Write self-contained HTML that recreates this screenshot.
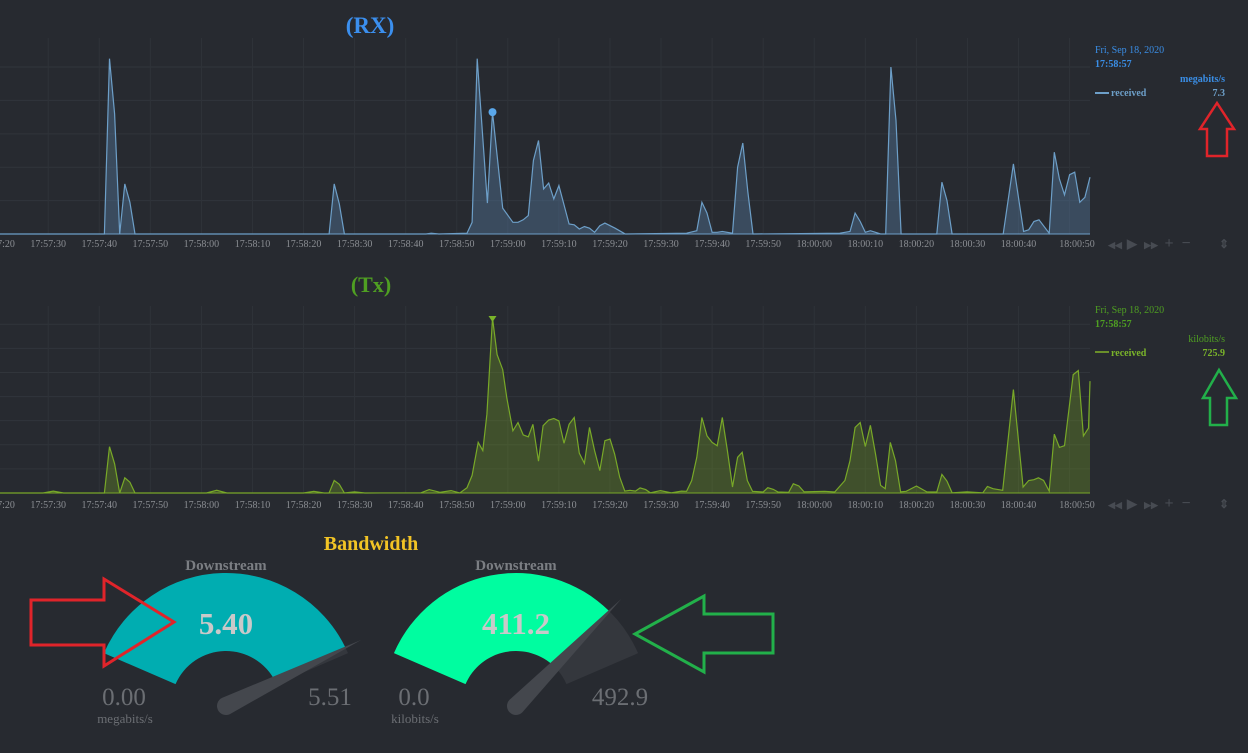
<!DOCTYPE html>
<html><head><meta charset="utf-8">
<style>
html,body{margin:0;padding:0;background:#272a30;width:1248px;height:753px;overflow:hidden}
svg{display:block}
text{font-family:"Liberation Serif",serif}
</style></head>
<body>
<svg id="s" width="1248" height="753" viewBox="0 0 1248 753">
<rect x="0" y="0" width="1248" height="753" fill="#272a30"/>
<text x="370" y="33" text-anchor="middle" font-size="23" font-weight="bold" fill="#3b8fee">(RX)</text>
<text x="371" y="292" text-anchor="middle" font-size="22" font-weight="bold" fill="#4f9f22">(Tx)</text>
<text x="371" y="550" text-anchor="middle" font-size="20" font-weight="bold" fill="#f2c425">Bandwidth</text>
<g id="rx"></g>
<g id="tx"></g>

<g font-size="10">
<text x="1095" y="53" fill="#3a8ee6">Fri, Sep 18, 2020</text>
<text x="1095" y="67" fill="#3a8ee6" font-weight="bold">17:58:57</text>
<text x="1225" y="82" text-anchor="end" fill="#3a8ee6" font-weight="bold">megabits/s</text>
<rect x="1095" y="92" width="14" height="2" fill="#6d9fc8"/>
<text x="1111" y="96" fill="#6d9fc8" font-weight="bold">received</text>
<text x="1225" y="96" text-anchor="end" fill="#6d9fc8" font-weight="bold">7.3</text>
</g>
<g font-size="10">
<text x="1095" y="313" fill="#4f9f22">Fri, Sep 18, 2020</text>
<text x="1095" y="327" fill="#4f9f22" font-weight="bold">17:58:57</text>
<text x="1225" y="342" text-anchor="end" fill="#4f9f22">kilobits/s</text>
<rect x="1095" y="351" width="14" height="2" fill="#6a8f2a"/>
<text x="1111" y="356" fill="#7ab42a" font-weight="bold">received</text>
<text x="1225" y="356" text-anchor="end" fill="#7ab42a" font-weight="bold">725.9</text>
</g>
<g id="ctl" fill="#4a4e55"></g>

<polygon points="1217,103 1234,129 1227,129 1227,156 1207,156 1207,129 1200,129" fill="none" stroke="#e0242a" stroke-width="2.5"/>
<polygon points="1219,370 1236,398 1227,398 1227,425 1210,425 1210,398 1203,398" fill="none" stroke="#22b04a" stroke-width="2.5"/>

<g id="gauges"></g>

<polygon points="31,600 104,600 104,579 174,622 104,666 104,645 31,645" fill="none" stroke="#e0242a" stroke-width="3"/>
<polygon points="635,634 704,596 704,614 773,614 773,653 704,653 704,672" fill="none" stroke="#22b04a" stroke-width="3"/>
</svg>
<script>
// time in seconds from 17:57:30
const tickLabels=["17:57:20","17:57:30","17:57:40","17:57:50","17:58:00","17:58:10","17:58:20","17:58:30","17:58:40","17:58:50","17:59:00","17:59:10","17:59:20","17:59:30","17:59:40","17:59:50","18:00:00","18:00:10","18:00:20","18:00:30","18:00:40","18:00:50"];
const tickTimes=[-10,0,10,20,30,40,50,60,70,80,90,100,110,120,130,140,150,160,170,180,190,200];
const rxTimes=[-10,11,12,13,14,15,16,17,55,56,57,58,74,75,76.5,82,83,84,86,87,89,91,92,93,94,95,96,97,98,99,100,102,103,104,105,106,107,108,109,111,113,125,127,128,129,130,131,132,134,135,136,137,138,155,157,158,159,160,161,162,163,164,165,166,167,174,175,176,177,187,189,191,192,193,194,196,197,198,199,200,201,202,203,204];
const rxValues=[0,0,10.5,7.2,0,3.0,1.9,0,0,3.0,1.8,0,0,0.05,0,0.05,0.7,10.5,1.85,7.3,1.55,0.7,0.7,0.85,1.1,4.4,5.6,2.7,3.05,2.1,2.9,0.6,0.55,0.3,0.45,0.35,0.1,0.5,0.65,0.35,0,0.05,0.2,1.9,1.25,0.1,0.1,0.15,0.05,4.0,5.45,2.5,0,0.05,0.15,1.25,0.75,0.1,0.2,0.1,0,0,10.0,6.8,0,0,3.1,2.0,0,0,4.2,0.15,0.25,0.75,0.85,0.05,4.9,3.3,2.35,3.55,3.7,1.9,2.2,3.4];
const txTimes=[-10,-1,1,3,11,12,13,14,15,16,17,31,33,35,50,52,54,55,56,57,58,60,62,73,74.6,76.7,78.9,80.6,82,83,84.2,85.1,85.9,87,87.9,89,89.8,91,92,93,94,94.9,96,96.9,98,99,100,101,102,103,104,105,106,107,108,109,110,110.9,111.9,112.9,113.9,115,115.9,117,117.9,119.9,122,124,125,126,127,128,129,130,131,132,133,134,135,135.9,136.9,137.9,140,140.9,142,142.9,145,145.9,147,148,152,154,156,157,158,159,160,161,162,163,163.9,164.9,165.9,166.9,168,170,172,174,175,176,177,179.9,183,183.9,185,186.9,189,190.9,192,193,193.9,194.9,196,197,198,199,200.7,201.7,202.7,203.7,204];
const txValues=[0,0,8,0,0,192,121,0,63,45,0,0,11,0,0,7,0,0,52,36,0,5,0,1,14,3,10,0,22,73,210,176,327,725.9,574,512,395,258,292,241,233,285,132,279,303,309,299,206,285,313,165,123,272,176,93,217,224,162,66,8,11,8,21,14,1,10,1,8,7,52,148,313,237,210,196,313,176,25,148,169,52,7,4,22,15,4,3,38,29,5,7,4,52,134,272,292,193,281,162,32,18,210,134,5,7,29,5,4,77,49,1,5,1,27,18,11,429,25,52,55,63,52,8,244,189,196,491,508,237,269,464];
const rxTicks=[2,4,6,8,10];
const txTicks=[100,200,300,400,500,600,700];
const gaugeValues=[5.40,411.2];
const gaugeMax=[5.51,492.9];
const gaugeMinLabels=["0.00","0.0"];
const gaugeMaxLabels=["5.51","492.9"];
const gaugeValueLabels=["5.40","411.2"];
const gaugeUnits=["megabits/s","kilobits/s"];
const gaugeColors=["#00adb1","#00fda0"];

const NS="http://www.w3.org/2000/svg";
function mk(tag,attrs,parent){const e=document.createElementNS(NS,tag);for(const k in attrs)e.setAttribute(k,attrs[k]);parent.appendChild(e);return e;}
const X0=48.2,PX=5.107;
function xs(t){return X0+t*PX;}

function drawChart(g,times,vals,base,top,vmax,ticks,lineC,fillC,labelY,marker,name){
  const ys=v=>base-(v/vmax)*(base-top);
  ticks.forEach(v=>{const l=mk('line',{x1:0,x2:1090,y1:ys(v),y2:ys(v),stroke:'#31353b','stroke-width':1},g);
    
    });
  tickTimes.forEach((t,i)=>{const x=xs(t);
    const l=mk('line',{x1:x,x2:x,y1:top-12,y2:base,stroke:'#2f3339','stroke-width':1},g);
    
    
    let lx=x; if(lx>1060) lx=1077;
    const tx=mk('text',{x:lx,y:labelY,'text-anchor':'middle','font-size':10,fill:'#8b8e93'},g);
    tx.textContent=tickLabels[i];
    
    });
  let d='M'+xs(times[0])+','+base;
  let ld='';
  times.forEach((t,i)=>{const p=xs(t).toFixed(1)+','+ys(vals[i]).toFixed(1);d+=' L'+p;ld+=(i?' L':'M')+p;});
  d+=' L'+xs(times[times.length-1])+','+base+' Z';
  const a=mk('path',{d:d,fill:fillC},g);
  
  
  const ln=mk('path',{d:ld,fill:'none',stroke:lineC,'stroke-width':1.2},g);
  
  
  mk('line',{x1:0,x2:1090,y1:base,y2:base,stroke:lineC,'stroke-width':1},g);
  const mi=marker;const mx=xs(times[mi]),my=ys(vals[mi]);
  let m;
  if(name==='rx') m=mk('circle',{cx:mx,cy:my,r:4,fill:'#5aa7ea'},g);
  else m=mk('polygon',{points:(mx-4)+','+(my-2)+' '+(mx+4)+','+(my-2)+' '+mx+','+(my+4),fill:'#7ab42a'},g);
  
  
}
drawChart(document.getElementById('rx'),rxTimes,rxValues,234,50,11.02,rxTicks,'#6d9fc8','rgba(90,130,170,0.38)',247,rxValues.indexOf(7.3),'rx');
drawChart(document.getElementById('tx'),txTimes,txValues,493,318,725.9,txTicks,'#78a828','rgba(110,150,40,0.36)',508,txValues.indexOf(725.9),'tx');

// controls
const ctl=document.getElementById('ctl');
[243,503].forEach((y,k)=>{
  const g=mk('g',{},ctl);
  
  
  const items=[['◀◀',1115,9],['▶',1132,13],['▶▶',1151,9],['+',1169,16],['−',1186,16],['⇕',1224,12]];
  items.forEach(it=>{const t=mk('text',{x:it[1],y:y+5,'text-anchor':'middle','font-size':it[2],'font-family':'DejaVu Sans',fill:'#474b52','font-weight':'bold'},g);t.textContent=it[0];
    
    });
});

// gauges
const gg=document.getElementById('gauges');
const centers=[[226,706],[516,706]];
const R=133,r=55,A=0.13*Math.PI;
function pt(cx,cy,rad,ang){return [cx+rad*Math.cos(ang),cy-rad*Math.sin(ang)];}
function sector(cx,cy,a1,a2){
  const p1=pt(cx,cy,R,a1),p2=pt(cx,cy,R,a2),p3=pt(cx,cy,r,a2),p4=pt(cx,cy,r,a1);
  const large=(a1-a2)>Math.PI?1:0;
  return `M${p1[0]},${p1[1]} A${R},${R} 0 ${large} 1 ${p2[0]},${p2[1]} L${p3[0]},${p3[1]} A${r},${r} 0 ${large} 0 ${p4[0]},${p4[1]} Z`;}
centers.forEach((c,i)=>{
  const g=mk('g',{},gg);
  
  
  const start=Math.PI-A,end=A,span=start-end;
  const frac=gaugeValues[i]/gaugeMax[i];
  const av=start-frac*span;
  mk('path',{d:sector(c[0],c[1],start,end),fill:'#34373d'},g);
  const f=mk('path',{d:sector(c[0],c[1],start,av),fill:gaugeColors[i]},g);
  
  
  const tip=pt(c[0],c[1],R*1.13,av),bl=pt(c[0],c[1],9,av+Math.PI/2),br=pt(c[0],c[1],9,av-Math.PI/2);
  const nd=mk('path',{d:`M${bl[0]},${bl[1]} L${tip[0]},${tip[1]} L${br[0]},${br[1]} A9,9 0 0 1 ${bl[0]},${bl[1]} Z`,fill:'#44474d'},g);
  
  
  const t1=mk('text',{x:c[0],y:570,'text-anchor':'middle','font-size':15,'font-weight':'bold',fill:'#7b7e83'},g);t1.textContent='Downstream';
  
  
  const t2=mk('text',{x:c[0],y:634,'text-anchor':'middle','font-size':31,'font-weight':'bold',fill:'#c9c9c9'},g);t2.textContent=gaugeValueLabels[i];
  
  
  const t3=mk('text',{x:c[0]-102,y:705,'text-anchor':'middle','font-size':25,fill:'#6b6e73'},g);t3.textContent=gaugeMinLabels[i];
  
  
  const t4=mk('text',{x:c[0]-101,y:723,'text-anchor':'middle','font-size':13,fill:'#6b6e73'},g);t4.textContent=gaugeUnits[i];
  
  
  const t5=mk('text',{x:c[0]+104,y:705,'text-anchor':'middle','font-size':25,fill:'#6b6e73'},g);t5.textContent=gaugeMaxLabels[i];
  
  
});
</script>
</body></html>
